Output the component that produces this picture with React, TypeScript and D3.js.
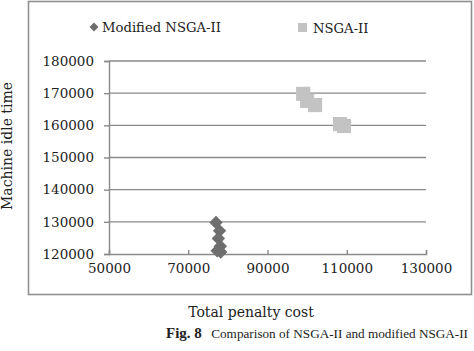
import { useEffect, useRef } from 'react'
import * as d3 from 'd3'

// Modified NSGA-II solutions (total penalty cost, machine idle time)
const modCost = [77000, 77900, 77600, 78100, 77300, 78200]
const modIdle = [129800, 127200, 124800, 122400, 121000, 120600]

// NSGA-II solutions
const nsgaCost = [99000, 100000, 102000, 108300, 109300]
const nsgaIdle = [169800, 167600, 166300, 160400, 159800]

const xTicks = [50000, 70000, 90000, 110000, 130000]
const yTicks = [120000, 130000, 140000, 150000, 160000, 170000, 180000]

const FONT = '"DejaVu Serif", serif'
const CAP_FONT = '"Liberation Serif", serif'

export default function App() {
  const svgRef = useRef<SVGSVGElement>(null)
  const width = 474
  const height = 351
  const margin = { top: 61, right: 48, bottom: 97, left: 109 }

  useEffect(() => {
    if (!svgRef.current) return
    const svg = d3.select(svgRef.current)
    svg.selectAll('*').remove()

    const innerWidth = width - margin.left - margin.right
    const innerHeight = height - margin.top - margin.bottom

    const x = d3.scaleLinear().domain([50000, 130000]).range([0, innerWidth])
    const y = d3.scaleLinear().domain([120000, 180000]).range([innerHeight, 0])

    // chart frame
    svg.append('rect')
      .attr('x', 28.5).attr('y', 1.5)
      .attr('width', 443).attr('height', 293)
      .attr('fill', '#fff')
      .attr('stroke', '#8f8f8f')
      .attr('stroke-width', 1.6)

    const g = svg.append('g')
      .attr('transform', `translate(${margin.left},${margin.top})`)

    // horizontal gridlines
    g.selectAll('.grid')
      .data(yTicks.slice(1))
      .enter().append('line')
      .attr('x1', 0).attr('x2', innerWidth)
      .attr('y1', d => y(d)).attr('y2', d => y(d))
      .attr('stroke', '#8a8a8a')
      .attr('stroke-width', 1.4)

    const yAxis = g.append('g')
      .call(d3.axisLeft(y).tickValues(yTicks).tickSize(5).tickPadding(10).tickFormat(d3.format('d')))
    const xAxis = g.append('g')
      .attr('transform', `translate(0,${innerHeight})`)
      .call(d3.axisBottom(x).tickValues(xTicks).tickSize(-4).tickPadding(9).tickFormat(d3.format('d')))

    for (const ax of [yAxis, xAxis]) {
      ax.select('.domain').attr('stroke', '#8a8a8a').attr('stroke-width', 1.4)
      ax.selectAll('.tick line').attr('stroke', '#8a8a8a').attr('stroke-width', 1.4)
      ax.selectAll('.tick text')
        .attr('font-family', FONT)
        .attr('font-size', 13.5)
        .attr('fill', '#222')
    }

    const diamond = d3.symbol().type(d3.symbolSquare).size(90)
    const square = d3.symbol().type(d3.symbolSquare).size(200)

    g.selectAll('.mod')
      .data(modCost.map((c, i) => [c, modIdle[i]]))
      .enter().append('path')
      .attr('d', diamond)
      .attr('transform', d => `translate(${x(d[0])},${y(d[1])}) rotate(45)`)
      .attr('fill', '#6e6e6e')

    g.selectAll('.nsga')
      .data(nsgaCost.map((c, i) => [c, nsgaIdle[i]]))
      .enter().append('path')
      .attr('d', square)
      .attr('transform', d => `translate(${x(d[0])},${y(d[1])})`)
      .attr('fill', '#c3c3c3')

    // legend
    svg.append('path')
      .attr('d', d3.symbol().type(d3.symbolSquare).size(40)())
      .attr('transform', 'translate(94,27) rotate(45)')
      .attr('fill', '#6e6e6e')
    svg.append('text')
      .attr('x', 102).attr('y', 32)
      .attr('font-family', FONT).attr('font-size', 13.2)
      .attr('fill', '#222')
      .text('Modified NSGA-II')
    svg.append('path')
      .attr('d', d3.symbol().type(d3.symbolSquare).size(81)())
      .attr('transform', 'translate(302.5,27.5)')
      .attr('fill', '#c3c3c3')
    svg.append('text')
      .attr('x', 313).attr('y', 33)
      .attr('font-family', FONT).attr('font-size', 13.2)
      .attr('fill', '#222')
      .text('NSGA-II')

    // axis titles
    svg.append('text')
      .attr('transform', 'translate(12,146) rotate(-90)')
      .attr('text-anchor', 'middle')
      .attr('font-family', FONT).attr('font-size', 14)
      .attr('fill', '#222')
      .text('Machine idle time')
    svg.append('text')
      .attr('x', 251).attr('y', 317)
      .attr('text-anchor', 'middle')
      .attr('font-family', FONT).attr('font-size', 14)
      .attr('fill', '#222')
      .text('Total penalty cost')

    // caption
    svg.append('text')
      .attr('x', 166).attr('y', 338)
      .attr('font-family', CAP_FONT).attr('font-size', 15)
      .attr('font-weight', 'bold')
      .attr('fill', '#222')
      .text('Fig. 8')
    svg.append('text')
      .attr('x', 468).attr('y', 338)
      .attr('text-anchor', 'end')
      .attr('font-family', CAP_FONT).attr('font-size', 13.2)
      .attr('fill', '#222')
      .text('Comparison of NSGA-II and modified NSGA-II')
  }, [])

  return (
    <svg
      ref={svgRef}
      width={width}
      height={height}
      style={{ position: 'absolute', left: 0, top: 0, background: '#fff' }}
    />
  )
}
